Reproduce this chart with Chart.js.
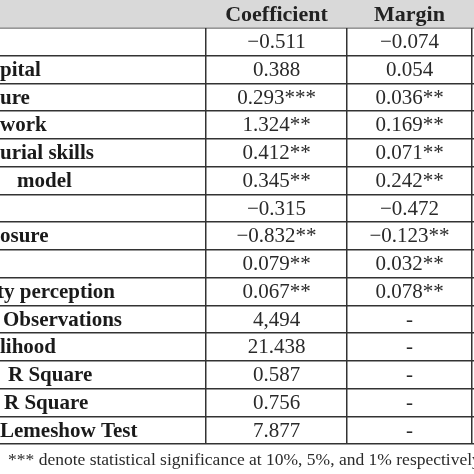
<!DOCTYPE html>
<html>
<head>
<meta charset="utf-8">
<script src="https://cdn.jsdelivr.net/npm/chart.js@4"></script>
<style>
  html, body { margin: 0; padding: 0; background: #fff; }
  #wrap { width: 474px; height: 474px; }
</style>
</head>
<body>
<div id="wrap"><canvas id="table"></canvas></div>
<script>
// rows of the table (left labels are cut off in the source image)
const rowLabels = ["", "", "pital", "ure", "work", "urial skills", "model", "", "osure", "", "ty perception",
  "Observations", "lihood", "R Square", "R Square", "Lemeshow Test"];
const labelShift = [0, 0, 0, 0, 0, 0, 17, 0, 0, 0, -3, 3, 0, 8, 4, 0];
const headers = ["", "Coefficient", "Margin"];
const coefficients = ["", "\u22120.511", "0.388", "0.293***", "1.324**", "0.412**", "0.345**", "\u22120.315",
  "\u22120.832**", "0.079**", "0.067**", "4,494", "21.438", "0.587", "0.756", "7.877"];
const margins = ["", "\u22120.074", "0.054", "0.036**", "0.169**", "0.071**", "0.242**", "\u22120.472",
  "\u22120.123**", "0.032**", "0.078**", "-", "-", "-", "-", "-"];
const columnEdges = [0, 206, 347, 472];
const footnote = "*** denote statistical significance at 10%, 5%, and 1% respectively.";

const rowKeys = rowLabels.map((_, i) => "r" + i);
const serif = '"Liberation Serif", "DejaVu Serif", serif';

const tablePlugin = {
  id: "tableText",
  beforeDatasetsDraw(chart) {
    const { ctx, scales: { x, y } } = chart;
    const top = y.getPixelForValue(0) - (y.getPixelForValue(1) - y.getPixelForValue(0)) / 2;
    const bottom = (y.getPixelForValue(0) + y.getPixelForValue(1)) / 2;
    ctx.save();
    ctx.fillStyle = "#d9d9d9";
    ctx.fillRect(x.left, top, x.right - x.left, bottom - top);
    ctx.restore();
  },
  afterDraw(chart) {
    const { ctx, scales: { x, y } } = chart;
    ctx.save();
    ctx.textBaseline = "middle";
    const c1 = x.getPixelForValue((columnEdges[1] + columnEdges[2]) / 2);
    const c2 = x.getPixelForValue((columnEdges[2] + columnEdges[3]) / 2);
    rowKeys.forEach((k, i) => {
      const py = y.getPixelForValue(i) + 1;
      if (i === 0) {
        ctx.font = "bold 22px " + serif;
        ctx.fillStyle = "#222";
        ctx.textAlign = "center";
        ctx.fillText(headers[1], c1, py);
        ctx.fillText(headers[2], c2, py);
        return;
      }
      ctx.font = "bold 21px " + serif;
      ctx.fillStyle = "#1a1a1a";
      ctx.textAlign = "left";
      ctx.fillText(rowLabels[i], x.left + labelShift[i], py);
      ctx.font = "21px " + serif;
      ctx.fillStyle = "#2a2a2a";
      ctx.textAlign = "center";
      ctx.fillText(coefficients[i], c1, py);
      ctx.fillText(margins[i], c2, py);
    });
    ctx.font = "17.5px " + serif;
    ctx.fillStyle = "#2a2a2a";
    ctx.textAlign = "left";
    ctx.fillText(footnote, 8, chart.height - 14);
    ctx.restore();
  }
};

new Chart(document.getElementById("table"), {
  type: "scatter",
  data: {
    datasets: [{ data: [], pointRadius: 0 }]
  },
  options: {
    responsive: true,
    maintainAspectRatio: false,
    animation: false,
    layout: { padding: { top: -1, bottom: 30, left: 0, right: 0 } },
    plugins: { legend: { display: false }, tooltip: { enabled: false } },
    scales: {
      x: {
        type: "linear",
        min: 0,
        max: 474,
        afterBuildTicks: (s) => { s.ticks = columnEdges.slice(1).map(v => ({ value: v })); },
        ticks: { display: false },
        border: { display: false },
        grid: { color: "#333", lineWidth: 1.5, drawTicks: false }
      },
      y: {
        type: "category",
        labels: rowKeys,
        offset: true,
        ticks: { display: false },
        border: { display: false },
        grid: { offset: true, color: "#333", lineWidth: 1.5, drawTicks: false }
      }
    }
  },
  plugins: [tablePlugin]
});
</script>
</body>
</html>
